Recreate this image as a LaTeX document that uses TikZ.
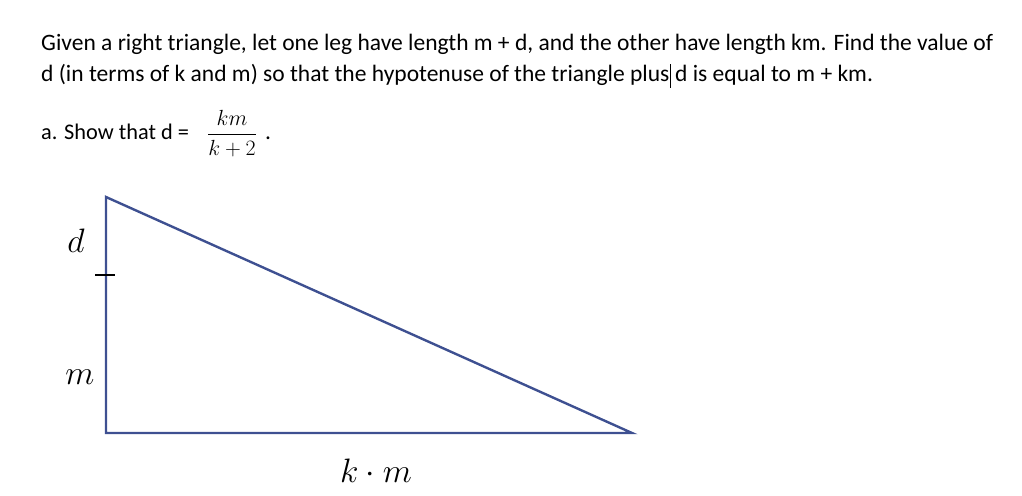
\RequirePackage{fix-cm}
\documentclass[tikz,border=0pt]{standalone}
\usepackage{fontspec}
\setmainfont{Carlito}
\usepackage{xcolor}
\usetikzlibrary{positioning,calc}
\definecolor{legblue}{RGB}{62,80,145}
\tikzset{
    prose/.style={anchor=base west, inner sep=0pt, font=\fontsize{23.6}{28}\selectfont},
    leglabel/.style={anchor=base, inner sep=0pt, font=\fontsize{34}{38}\selectfont},
    side/.style={draw=legblue, line width=2.4pt, line join=miter}
}

\begin{document}
\begin{tikzpicture}[x=1bp,y=-1bp]
    \useasboundingbox (0,0) rectangle (1022,496);
    % Question
    \node[prose] (line1) at (41,51) {Given a right triangle, let one leg have length m + d, and the other have length km. Find the value of};
    \node[prose] (line2) at (41,82) {d (in terms of k and m) so that the hypotenuse of the triangle plus};
    \node[prose] (line2b) at (line2.base east) {\ d is equal to m + km.};
    \draw[line width=1pt] ($(line2.base east)+(0.5,6)$) -- ($(line2.base east)+(0.5,-18)$);
    \node[prose, font=\fontsize{22.4}{26}\selectfont] (parta) at (41,140) {a. Show that d =};
    \node[prose, anchor=base, font=\fontsize{22}{26}\selectfont] (frac) at (232,140) {$\displaystyle\frac{km}{k+2}$};
    \node[prose] (dot) at (265,140) {.};
    
    % Triangle
    \coordinate (top) at (106,197); \coordinate (corner) at (106,433); \coordinate (right) at (632,433);
    \draw[side] (top) -- (corner) -- (right) -- cycle;
    \coordinate (tick) at (106,275);
    \draw[line width=1.4pt] ($(tick)+(-11,0)$) -- ($(tick)+(9,0)$);
    
    % Labels
    \node[leglabel] (dlabel) at (76,253) {$d$};
    \node[leglabel] (mlabel) at (80,385) {$m$};
    \node[leglabel] (kmlabel) at (376,482) {$k\cdot m$};
\end{tikzpicture}
\end{document}
